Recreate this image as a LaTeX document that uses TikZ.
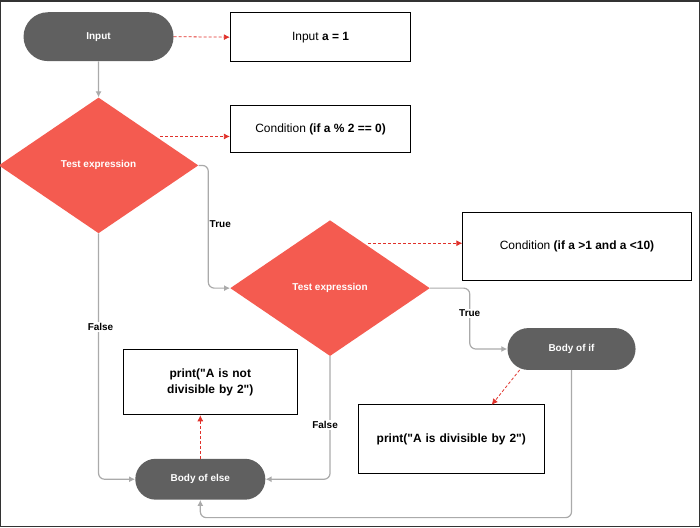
\documentclass[tikz,border=0pt]{standalone}
\usepackage{fontspec}
\setmainfont{Liberation Sans}
\usetikzlibrary{arrows.meta,shapes.geometric,shapes.misc}
\definecolor{pill}{HTML}{606060}
\definecolor{dia}{HTML}{F45B50}
\definecolor{ln}{HTML}{AAAAAA}
\definecolor{dash}{HTML}{E0312A}
\begin{document}
\begin{tikzpicture}[x=1pt,y=-1pt,
  pill/.style={rounded rectangle, fill=pill, text=white, font=\bfseries\fontsize{10}{12}\selectfont, minimum height=#1},
  dia/.style={diamond, fill=dia, text=white, font=\bfseries\fontsize{10}{12}\selectfont, minimum width=200pt, minimum height=136pt, aspect=1.47, inner sep=0pt},
  box/.style={draw=black, line width=0.8pt, font=\fontsize{12}{16}\selectfont, align=center, inner sep=0pt},
  flow/.style={draw=ln, line width=1.2pt, rounded corners=6pt, -{Latex[length=6pt,width=6pt]}},
  dsh/.style={draw=dash, densely dashed, line width=0.8pt, -{Latex[length=6pt,width=6pt]}},
  lbl/.style={font=\bfseries\fontsize{10}{12}\selectfont, fill=white, inner sep=1pt}]
\draw[line width=1.5pt, draw=black!80] (0,0) rectangle (700,527);
\useasboundingbox (0,0) rectangle (700,527);
\node[pill=49pt, minimum width=157pt] (in) at (98,36) {Input};
\node[box, minimum width=181pt, minimum height=49pt] (b1) at (320.5,36.5) {Input \textbf{a = 1}};
\node[dia] (d1) at (98,165) {Test expression};
\node[box, minimum width=181pt, minimum height=47pt] (b2) at (320.5,128.5) {Condition \textbf{(if a \% 2 == 0)}};
\node[dia] (d2) at (330,288) {Test expression};
\node[box, minimum width=229pt, minimum height=68pt] (b3) at (577.5,246) {Condition \textbf{(if a >1 and a <10)}};
\node[pill=42pt, minimum width=135pt] (bif) at (572,349) {Body of if};
\node[box, minimum width=187pt, minimum height=69pt, text width=175pt] (b4) at (451.5,439.5) {\textbf{print(\textquotedbl A is divisible by 2\textquotedbl)}};
\node[box, minimum width=174pt, minimum height=66pt, text width=120pt] (b5) at (210,382) {\textbf{print(\textquotedbl A is not divisible by 2\textquotedbl)}};
\node[pill=41pt, minimum width=137pt] (bel) at (200,479.5) {Body of else};
\coordinate (e1) at (520,370);
\coordinate (s1) at (160,136);
\coordinate (s2) at (368,243);
% flow
\draw[flow] (in) -- (d1);
\draw[flow] (d1.east) -| (208,288) -- (d2.west);
\node[lbl] at (220,224) {True};
\draw[flow] (d2.east) -| (470,349) -- (bif.west);
\node[lbl] at (470,313) {True};
\draw[flow] (d1.south) |- (bel.west);
\node[lbl] at (100,327) {False};
\draw[flow] (d2.south) |- (bel.east);
\node[lbl] at (325,425) {False};
\draw[flow] (bif.south) |- (200,518) -- (bel.south);
% dashed
\draw[dsh] (in.east) -- (b1.west);
\draw[dsh] (s1) -- (s1 -| b2.west);
\draw[dsh] (s2) -- (s2 -| b3.west);
\draw[dsh] (e1) -- (492,405);
\draw[dsh] (bel.north) -- (bel.north |- b5.south);
\end{tikzpicture}
\end{document}
